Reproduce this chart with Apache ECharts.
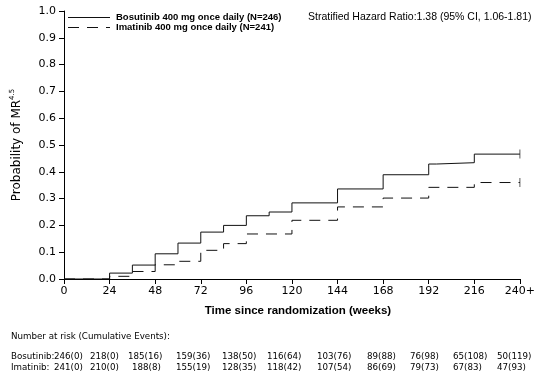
<!DOCTYPE html>
<html><head><meta charset="utf-8">
<script src="https://cdn.jsdelivr.net/npm/echarts@6/dist/echarts.min.js"></script>
<style>html,body{margin:0;padding:0;background:#fff}#c{width:538px;height:383px}</style>
</head><body><div id="c"></div>
<script>
// ---- data ----
const weeks = [0, 24, 48, 72, 96, 120, 144, 168, 192, 216, 240];
const xTickLabels = ['0','24','48','72','96','120','144','168','192','216','240+'];
const bosName = 'Bosutinib 400 mg once daily (N=246)';
const imaName = 'Imatinib 400 mg once daily (N=241)';
const bosTimes = [0, 24, 36, 48, 60, 72, 84, 96, 108, 120, 144, 168, 192, 196, 216, 240];
const bosProb  = [0, 0.022, 0.052, 0.094, 0.134, 0.175, 0.200, 0.236, 0.250, 0.284, 0.336, 0.389, 0.429, 0.434, 0.466, 0.466];
const imaTimes = [0, 24, 35, 48, 60, 72, 84, 96, 120, 144, 168, 192, 216, 240];
const imaProb  = [0, 0.010, 0.028, 0.053, 0.066, 0.107, 0.132, 0.168, 0.219, 0.269, 0.302, 0.342, 0.360, 0.360];
const hazardText = 'Stratified Hazard Ratio:1.38 (95% CI, 1.06-1.81)';
const riskTitle = 'Number at risk (Cumulative Events):';
const bosLabel = 'Bosutinib:';
const imaLabel = 'Imatinib:';
const bosRisk = ['246(0)','218(0)','185(16)','159(36)','138(50)','116(64)','103(76)','89(88)','76(98)','65(108)','50(119)'];
const imaRisk = ['241(0)','210(0)','188(8)','155(19)','128(35)','118(42)','107(54)','86(69)','79(73)','67(83)','47(93)'];

// ---- layout ----
const riskColsBos = [54, 90, 128, 176, 222, 267, 317, 367, 410, 453, 497];
const riskColsIma = [54, 90, 132, 176, 222, 267, 317, 367, 410, 453, 497];
const txt = '#000';
const riskFont = {fontFamily:'DejaVu Sans', fontSize:8.7, fill:txt};
const legFont = {fontFamily:'Liberation Sans', fontSize:9.5, fontWeight:'bold', fill:txt};

const chart = echarts.init(document.getElementById('c'));
const graphics = [
  {type:'text', left:308, top:12, style:{text:hazardText, fontFamily:'Liberation Sans', fontSize:10.5, fill:txt}},
  {type:'line', shape:{x1:68, y1:17.5, x2:110, y2:17.5}, style:{stroke:'#111', lineWidth:1}},
  {type:'line', shape:{x1:68, y1:27.5, x2:110, y2:27.5}, style:{stroke:'#111', lineWidth:1, lineDash:[11,8]}},
  {type:'text', left:116, top:12.5, style:Object.assign({text:bosName}, legFont)},
  {type:'text', left:116, top:22.5, style:Object.assign({text:imaName}, legFont)},
  {type:'text', left:11, top:332, style:Object.assign({text:riskTitle}, riskFont)},
  {type:'text', left:11, top:352, style:Object.assign({text:bosLabel}, riskFont)},
  {type:'text', left:11, top:363, style:Object.assign({text:imaLabel}, riskFont)}
];
bosRisk.forEach((s,i)=>graphics.push({type:'text', left:riskColsBos[i], top:352, style:Object.assign({text:s}, riskFont)}));
imaRisk.forEach((s,i)=>graphics.push({type:'text', left:riskColsIma[i], top:363, style:Object.assign({text:s}, riskFont)}));

chart.setOption({
  animation:false,
  backgroundColor:'#fff',
  grid:{left:64, right:16, top:11, bottom:104, containLabel:false},
  xAxis:{
    type:'value', min:0, max:240, interval:24,
    axisLine:{show:true, lineStyle:{color:'#000', width:1}},
    axisTick:{show:true, length:5, lineStyle:{color:'#000'}},
    axisLabel:{color:txt, fontFamily:'DejaVu Sans', fontSize:11, margin:7,
      formatter:(v)=>xTickLabels[weeks.indexOf(v)]},
    splitLine:{show:false},
    name:'Time since randomization (weeks)', nameLocation:'middle', nameGap:26,
    nameTextStyle:{fontFamily:'Liberation Sans', fontWeight:'bold', fontSize:11.5, color:txt, padding:[0,0,0,12]}
  },
  yAxis:{
    type:'value', min:0, max:1, interval:0.1,
    axisLine:{show:true, lineStyle:{color:'#000', width:1}},
    axisTick:{show:true, length:5, lineStyle:{color:'#000'}},
    axisLabel:{color:txt, fontFamily:'DejaVu Sans', fontSize:11, margin:8, formatter:(v)=>v.toFixed(1)},
    splitLine:{show:false},
    name:'{a|Probability of MR}{s|4.5}', nameLocation:'middle', nameGap:40,
    nameTextStyle:{rich:{
      a:{fontFamily:'DejaVu Sans', fontSize:12, color:txt},
      s:{fontFamily:'DejaVu Sans', fontSize:7, color:txt, verticalAlign:'top', padding:[0,0,8,0]}
    }}
  },
  graphic:graphics,
  series:[
    {name:bosName, type:'line', step:'end', symbol:'none', data:bosTimes.map((t,i)=>[t,bosProb[i]]),
     lineStyle:{color:'#111', width:1, type:'solid'}},
    {name:imaName, type:'line', step:'end', symbol:'none', data:imaTimes.map((t,i)=>[t,imaProb[i]]),
     lineStyle:{color:'#111', width:1, type:[11,8]}},
    {type:'scatter', symbol:'rect', symbolSize:[1,9], silent:true,
     data:[[bosTimes[bosTimes.length-1], bosProb[bosProb.length-1]],[imaTimes[imaTimes.length-1], imaProb[imaProb.length-1]]],
     itemStyle:{color:'#333'}}
  ]
});
</script></body></html>
